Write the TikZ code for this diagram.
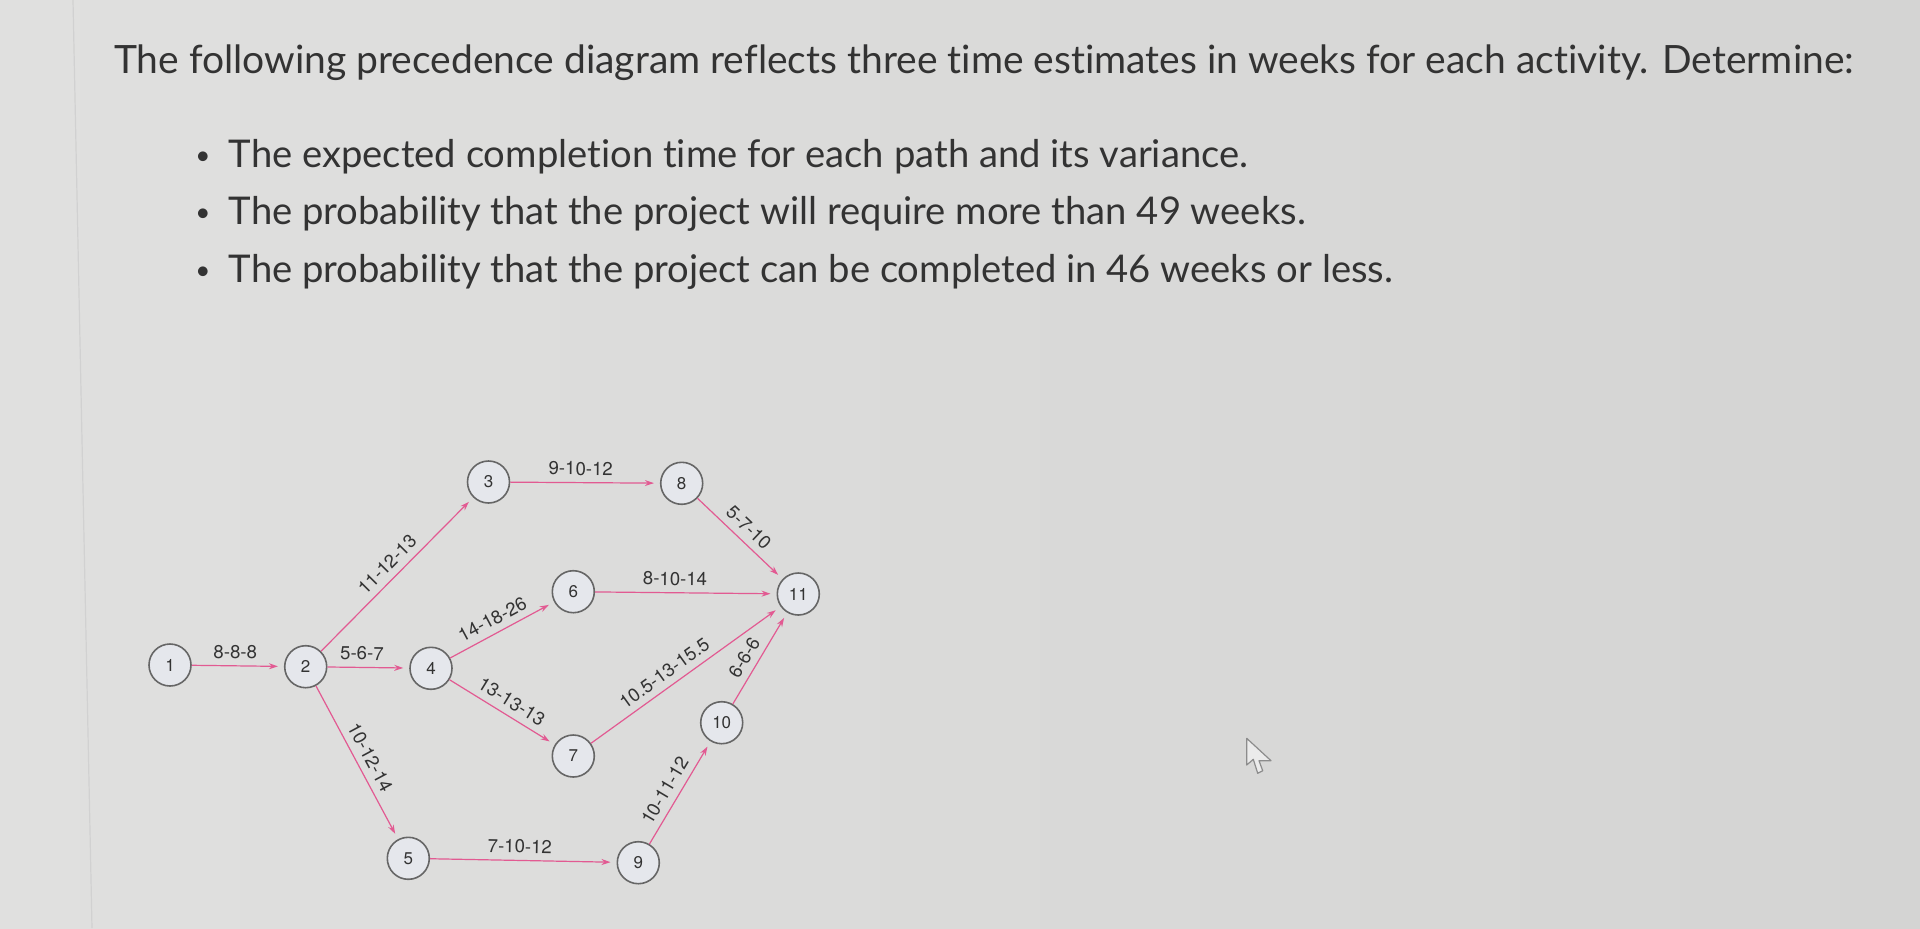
\documentclass[tikz,border=0pt]{standalone}
\usepackage{fontspec}
\setmainfont{Lato}[Ligatures=NoCommon]
\newfontfamily\netfont{TeX Gyre Heros}
\usetikzlibrary{arrows.meta}

\definecolor{bgleft}{HTML}{E0E0DF}
\definecolor{bgright}{HTML}{D4D4D3}
\definecolor{edgepink}{HTML}{E25A92}
\definecolor{nodefill}{HTML}{E5E7EC}
\definecolor{noderim}{HTML}{666666}
\definecolor{inkgrey}{HTML}{333333}

\begin{document}
\begin{tikzpicture}[x=0.5pt,y=-0.5pt,
    event/.style={circle,draw=noderim,line width=0.8pt,fill=nodefill,minimum size=21pt,
                  inner sep=0pt,text=inkgrey,font=\netfont\fontsize{8.5}{8.5}\selectfont},
    activity/.style={draw=edgepink,line width=0.6pt,-{Stealth[length=4.5pt,width=3pt]},shorten >=3pt},
    est/.style={sloped,above,text=inkgrey,font=\netfont\fontsize{9.3}{9.3}\selectfont},
    textline/.style={anchor=base west,text=inkgrey},
    dot/.style={text=inkgrey,inner sep=0pt,font=\fontsize{13}{13}\selectfont}]
                    % screen background
                    \useasboundingbox (0,0) rectangle (1920,928);
                    \shade[left color=bgleft,right color=bgright] (0,0) rectangle (1920,928);
                    \draw[black!18,line width=0.6pt] (73,0) -- (92,928);

                    \node[textline,font=\fontsize{19.5}{19.5}\selectfont] (title node) at (107,73)
                        {The following precedence diagram reflects three time estimates in weeks for each activity. Determine:};
                    \node[textline,font=\fontsize{19.1}{19.1}\selectfont] (Q1 node) at (221.7,167)
                        {The expected completion time for each path and its variance.};
                    \node[textline,font=\fontsize{19.1}{19.1}\selectfont] (Q2 node) at (221.7,224)
                        {The probability that the project will require more than 49 weeks.};
                    \node[textline,font=\fontsize{19.1}{19.1}\selectfont] (Q3 node) at (221.7,282)
                        {The probability that the project can be completed in 46 weeks or less.};
                    \node[dot] (B1 node) at (203,158) {•};
                    \node[dot] (B2 node) at (203,215) {•};
                    \node[dot] (B3 node) at (203,273) {•};

                    % events
                    \node[event] (N1 node) at (170,665) {1};
                    \node[event] (N2 node) at (305.7,666.7) {2};
                    \node[event] (N3 node) at (488.5,482) {3};
                    \node[event] (N4 node) at (431,668.3) {4};
                    \node[event] (N5 node) at (408.3,858.3) {5};
                    \node[event] (N6 node) at (573.3,591.7) {6};
                    \node[event] (N7 node) at (573.3,756) {7};
                    \node[event] (N8 node) at (681.7,483.3) {8};
                    \node[event] (N9 node) at (638.3,862.7) {9};
                    \node[event] (N10 node) at (721.7,722.7) {10};
                    \node[event] (N11 node) at (798.3,594) {11};

                    % activities
                    \draw[activity] (N1 node) -- node[est,pos=0.47] {8-8-8} (N2 node);
                    \draw[activity] (N2 node) -- node[est,pos=0.42] {5-6-7} (N4 node);
                    \draw[activity] (N2 node) -- node[est,pos=0.5] {11-12-13} (N3 node);
                    \draw[activity] (N2 node) -- node[est,pos=0.51] {10-12-14} (N5 node);
                    \draw[activity] (N3 node) -- node[est,pos=0.47] {9-10-12} (N8 node);
                    \draw[activity] (N4 node) -- node[est,pos=0.47] {14-18-26} (N6 node);
                    \draw[activity] (N4 node) -- node[est,pos=0.52] {13-13-13} (N7 node);
                    \draw[activity] (N5 node) -- node[est,pos=0.48] {7-10-12} (N9 node);
                    \draw[activity] (N8 node) -- node[est,pos=0.49] {5-7-10} (N11 node);
                    \draw[activity] (N6 node) -- node[est,pos=0.44] {8-10-14} (N11 node);
                    \draw[activity] (N7 node) -- node[est,pos=0.43] {10.5-13-15.5} (N11 node);
                    \draw[activity] (N9 node) -- node[est,pos=0.45] {10-11-12} (N10 node);
                    \draw[activity] (N10 node) -- node[est,pos=0.43] {6-6-6} (N11 node);

                    % mouse pointer
                    \draw[draw=black!45,fill=black!8,line width=0.6pt,line join=round]
                        (1246.7,738.3) -- (1246.7,765) -- (1253.3,759.3) -- (1257.7,773.3)
                        -- (1262.7,770.7) -- (1259,760.7) -- (1271,760.7) -- cycle;

                \end{tikzpicture}
\end{document}
